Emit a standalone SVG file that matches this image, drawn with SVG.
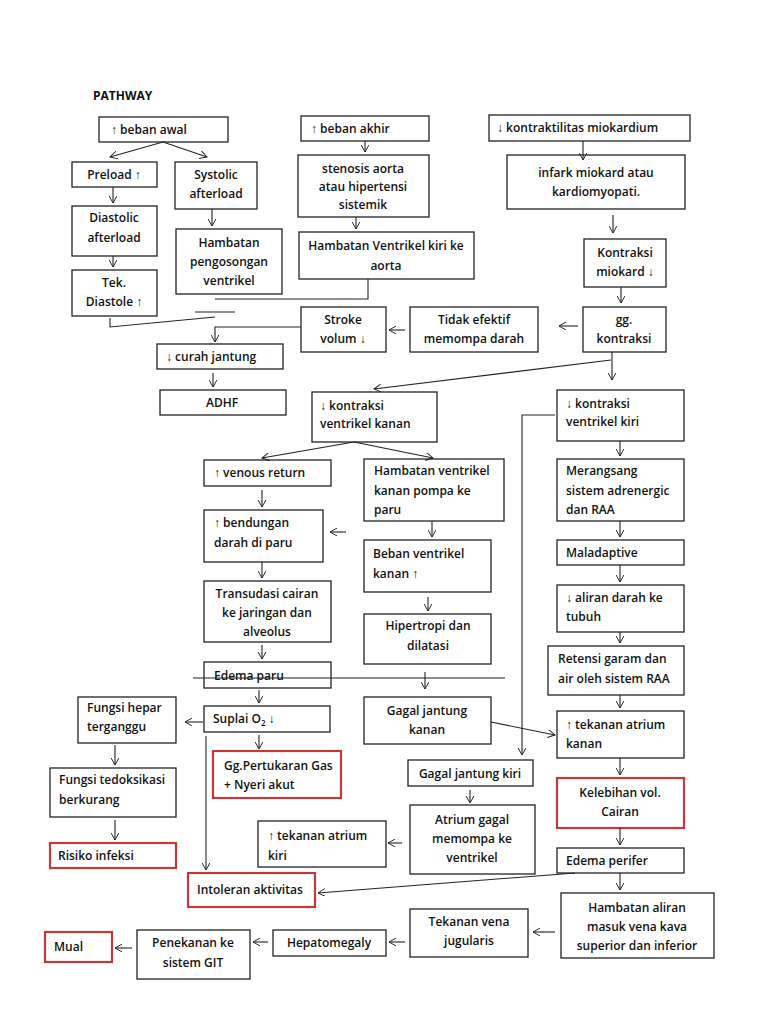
<svg xmlns="http://www.w3.org/2000/svg" width="768" height="1024" viewBox="0 0 768 1024">
<style>
rect{fill:#fff;stroke:#222;stroke-width:1.3}
rect.r{stroke:#c0393b;stroke-width:2.2}
text{font-family:"Open Sans","Liberation Sans",sans-serif;font-size:12px;font-weight:600;fill:#111}
.c{text-anchor:middle}
#connectors line,#connectors polyline{stroke:#222;stroke-width:1.1;fill:none}
.a{marker-end:url(#ah)}
</style>
<defs><marker id="ah" viewBox="0 0 10 10" refX="9" refY="5" markerWidth="8" markerHeight="8" orient="auto" markerUnits="userSpaceOnUse"><path d="M0,0 L9,5 L0,10" fill="none" stroke="#222" stroke-width="1.2"/></marker></defs>
<rect x="0" y="0" width="768" height="1024" style="fill:#fff;stroke:none"/>
<text x="93" y="100" style="font-weight:700">PATHWAY</text>
<g id="n1"><rect x="99" y="117" width="129" height="25"/><text x="111" y="134">↑ beban awal</text></g>
<g id="n2"><rect x="301" y="116" width="128" height="25"/><text x="311" y="133">↑ beban akhir</text></g>
<g id="n3"><rect x="489" y="115" width="201" height="26"/><text x="497" y="132">↓ kontraktilitas miokardium</text></g>
<g id="n4"><rect x="72" y="162" width="85" height="25"/><text x="114" y="179" class="c">Preload ↑</text></g>
<g id="n5"><rect x="175" y="162" width="82" height="47"/><text x="216" y="179" class="c">Systolic</text><text x="216" y="198" class="c">afterload</text></g>
<g id="n6"><rect x="298" y="155" width="131" height="62"/><text x="363" y="173" class="c">stenosis aorta</text><text x="363" y="191" class="c">atau hipertensi</text><text x="363" y="209" class="c">sistemik</text></g>
<g id="n7"><rect x="507" y="155" width="178" height="54"/><text x="596" y="177" class="c">infark miokard atau</text><text x="596" y="196" class="c">kardiomyopati.</text></g>
<g id="n8"><rect x="72" y="206" width="85" height="50"/><text x="114" y="222" class="c">Diastolic</text><text x="114" y="242" class="c">afterload</text></g>
<g id="n9"><rect x="176" y="229" width="106" height="65"/><text x="229" y="247" class="c">Hambatan</text><text x="229" y="266" class="c">pengosongan</text><text x="229" y="285" class="c">ventrikel</text></g>
<g id="n10"><rect x="299" y="232" width="175" height="47"/><text x="386" y="250" class="c">Hambatan Ventrikel kiri ke</text><text x="386" y="270" class="c">aorta</text></g>
<g id="n11"><rect x="584" y="239" width="82" height="48"/><text x="625" y="257" class="c">Kontraksi</text><text x="625" y="276" class="c">miokard ↓</text></g>
<g id="n12"><rect x="72" y="270" width="85" height="46"/><text x="114" y="287" class="c">Tek.</text><text x="114" y="306" class="c">Diastole ↑</text></g>
<g id="n13"><rect x="301" y="307" width="85" height="45"/><text x="343" y="324" class="c">Stroke</text><text x="343" y="343" class="c">volum ↓</text></g>
<g id="n14"><rect x="410" y="307" width="128" height="45"/><text x="474" y="324" class="c">Tidak efektif</text><text x="474" y="343" class="c">memompa darah</text></g>
<g id="n15"><rect x="583" y="307" width="83" height="45"/><text x="624" y="324" class="c">gg.</text><text x="624" y="343" class="c">kontraksi</text></g>
<g id="n16"><rect x="157" y="344" width="126" height="25"/><text x="166" y="361">↓ curah jantung</text></g>
<g id="n17"><rect x="160" y="390" width="126" height="25"/><text x="206" y="407">ADHF</text></g>
<g id="n18"><rect x="312" y="392" width="125" height="50"/><text x="320" y="410">↓ kontraksi</text><text x="320" y="428">ventrikel kanan</text></g>
<g id="n19"><rect x="557" y="390" width="127" height="51"/><text x="566" y="408">↓ kontraksi</text><text x="566" y="426">ventrikel kiri</text></g>
<g id="n20"><rect x="204" y="460" width="127" height="26"/><text x="214" y="477">↑ venous return</text></g>
<g id="n21"><rect x="364" y="459" width="140" height="62"/><text x="374" y="475">Hambatan ventrikel</text><text x="374" y="495">kanan pompa ke</text><text x="374" y="514">paru</text></g>
<g id="n22"><rect x="557" y="459" width="127" height="62"/><text x="566" y="475">Merangsang</text><text x="566" y="495">sistem adrenergic</text><text x="566" y="514">dan RAA</text></g>
<g id="n23"><rect x="204" y="510" width="119" height="52"/><text x="214" y="527">↑ bendungan</text><text x="214" y="547">darah di paru</text></g>
<g id="n24"><rect x="364" y="540" width="127" height="52"/><text x="373" y="558">Beban ventrikel</text><text x="373" y="578">kanan ↑</text></g>
<g id="n25"><rect x="557" y="540" width="127" height="25"/><text x="566" y="557">Maladaptive</text></g>
<g id="n26"><rect x="204" y="581" width="127" height="61"/><text x="267" y="598" class="c">Transudasi cairan</text><text x="267" y="617" class="c">ke jaringan dan</text><text x="267" y="636" class="c">alveolus</text></g>
<g id="n27"><rect x="557" y="585" width="127" height="47"/><text x="566" y="602">↓ aliran darah ke</text><text x="566" y="621">tubuh</text></g>
<g id="n28"><rect x="364" y="614" width="127" height="50"/><text x="428" y="630" class="c">Hipertropi dan</text><text x="428" y="650" class="c">dilatasi</text></g>
<g id="n29"><rect x="548" y="646" width="136" height="49"/><text x="558" y="663">Retensi garam dan</text><text x="558" y="683">air oleh sistem RAA</text></g>
<g id="n30"><rect x="204" y="662" width="127" height="26"/><text x="214" y="680">Edema paru</text></g>
<g id="n31"><rect x="78" y="697" width="98" height="46"/><text x="87" y="712">Fungsi hepar</text><text x="87" y="731">terganggu</text></g>
<g id="n32"><rect x="204" y="706" width="126" height="26"/><text x="213" y="723">Suplai O<tspan font-size="8" dy="3">2</tspan><tspan dy="-3"> ↓</tspan></text></g>
<g id="n33"><rect x="364" y="697" width="127" height="47"/><text x="427" y="715" class="c">Gagal jantung</text><text x="427" y="734" class="c">kanan</text></g>
<g id="n34"><rect x="557" y="711" width="127" height="47"/><text x="566" y="729">↑ tekanan atrium</text><text x="566" y="748">kanan</text></g>
<g id="n35"><rect class="r" x="213" y="751" width="128" height="47"/><text x="224" y="770">Gg.Pertukaran Gas</text><text x="224" y="789">+ Nyeri akut</text></g>
<g id="n36"><rect x="408" y="760" width="125" height="26"/><text x="470" y="778" class="c">Gagal jantung kiri</text></g>
<g id="n37"><rect x="50" y="768" width="126" height="49"/><text x="59" y="784">Fungsi tedoksikasi</text><text x="59" y="804">berkurang</text></g>
<g id="n38"><rect class="r" x="557" y="778" width="127" height="50"/><text x="620" y="797" class="c">Kelebihan vol.</text><text x="620" y="816" class="c">Cairan</text></g>
<g id="n39"><rect x="258" y="821" width="128" height="46"/><text x="268" y="840">↑ tekanan atrium</text><text x="268" y="860">kiri</text></g>
<g id="n40"><rect x="410" y="805" width="125" height="69"/><text x="472" y="824" class="c">Atrium gagal</text><text x="472" y="843" class="c">memompa ke</text><text x="472" y="862" class="c">ventrikel</text></g>
<g id="n41"><rect class="r" x="50" y="843" width="126" height="25"/><text x="58" y="860">Risiko infeksi</text></g>
<g id="n42"><rect x="557" y="848" width="127" height="25"/><text x="566" y="865">Edema perifer</text></g>
<g id="n43"><rect class="r" x="188" y="873" width="127" height="34"/><text x="197" y="894">Intoleran aktivitas</text></g>
<g id="n44"><rect x="410" y="909" width="118" height="48"/><text x="469" y="926" class="c">Tekanan vena</text><text x="469" y="945" class="c">jugularis</text></g>
<g id="n45"><rect x="561" y="893" width="153" height="65"/><text x="637" y="912" class="c">Hambatan aliran</text><text x="637" y="931" class="c">masuk vena kava</text><text x="637" y="950" class="c">superior dan inferior</text></g>
<g id="n46"><rect x="273" y="930" width="113" height="26"/><text x="329" y="947" class="c">Hepatomegaly</text></g>
<g id="n47"><rect x="137" y="930" width="113" height="49"/><text x="193" y="947" class="c">Penekanan ke</text><text x="193" y="967" class="c">sistem GIT</text></g>
<g id="n48"><rect class="r" x="45" y="932" width="67" height="30"/><text x="54" y="951">Mual</text></g>
<g id="connectors">
<line class="a" x1="163" y1="142" x2="110" y2="157"/>
<line class="a" x1="163" y1="142" x2="207" y2="157"/>
<line class="a" x1="365" y1="141" x2="365" y2="152"/>
<line class="a" x1="583" y1="141" x2="583" y2="160"/>
<line class="a" x1="113" y1="187" x2="113" y2="203"/>
<line class="a" x1="212" y1="209" x2="212" y2="226"/>
<line class="a" x1="356" y1="217" x2="356" y2="229"/>
<line class="a" x1="613" y1="215" x2="613" y2="233"/>
<line class="a" x1="113" y1="256" x2="113" y2="267"/>
<line class="a" x1="621" y1="287" x2="621" y2="303"/>
<polyline points="368,279 368,299 215,299"/>
<line x1="195" y1="312" x2="235" y2="312"/>
<polyline points="110,318 110,327 215,317"/>
<polyline class="a" points="301,327 215,327 215,342"/>
<line class="a" x1="578" y1="326" x2="559" y2="326"/>
<line class="a" x1="405" y1="330" x2="389" y2="330"/>
<line class="a" x1="213" y1="373" x2="213" y2="387"/>
<line class="a" x1="611" y1="360" x2="374" y2="389"/>
<line class="a" x1="612" y1="352" x2="612" y2="380"/>
<line class="a" x1="354" y1="442" x2="262" y2="458"/>
<line class="a" x1="354" y1="442" x2="433" y2="458"/>
<line class="a" x1="620" y1="441" x2="620" y2="456"/>
<polyline class="a" points="555,415 522,415 522,755"/>
<line class="a" x1="262" y1="490" x2="262" y2="507"/>
<line class="a" x1="346" y1="532" x2="330" y2="532"/>
<line class="a" x1="432" y1="521" x2="432" y2="537"/>
<line class="a" x1="620" y1="521" x2="620" y2="537"/>
<line class="a" x1="620" y1="565" x2="620" y2="582"/>
<line class="a" x1="262" y1="562" x2="262" y2="578"/>
<line class="a" x1="428" y1="597" x2="428" y2="611"/>
<line class="a" x1="620" y1="632" x2="620" y2="643"/>
<line class="a" x1="262" y1="645" x2="262" y2="659"/>
<line x1="193" y1="678" x2="505" y2="678"/>
<line class="a" x1="425" y1="672" x2="425" y2="689"/>
<line class="a" x1="620" y1="695" x2="620" y2="708"/>
<line class="a" x1="259" y1="690" x2="259" y2="703"/>
<line class="a" x1="203" y1="722" x2="185" y2="722"/>
<line class="a" x1="491" y1="722" x2="555" y2="735"/>
<line class="a" x1="259" y1="735" x2="259" y2="749"/>
<line class="a" x1="206" y1="736" x2="206" y2="870"/>
<line class="a" x1="620" y1="758" x2="620" y2="775"/>
<line class="a" x1="470" y1="790" x2="470" y2="803"/>
<line class="a" x1="115" y1="745" x2="115" y2="765"/>
<line class="a" x1="620" y1="828" x2="620" y2="845"/>
<line class="a" x1="402" y1="843" x2="388" y2="843"/>
<line class="a" x1="115" y1="820" x2="115" y2="840"/>
<line class="a" x1="620" y1="873" x2="620" y2="890"/>
<line class="a" x1="575" y1="873" x2="318" y2="893"/>
<line class="a" x1="555" y1="932" x2="533" y2="932"/>
<line class="a" x1="405" y1="942" x2="389" y2="942"/>
<line class="a" x1="268" y1="942" x2="253" y2="942"/>
<line class="a" x1="132" y1="948" x2="115" y2="948"/>
</g>
</svg>
